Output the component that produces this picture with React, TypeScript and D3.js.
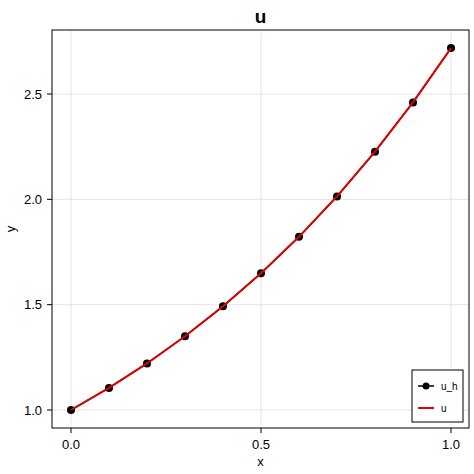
import React from "react";
import * as d3 from "d3";

const xs = [0, 0.1, 0.2, 0.3, 0.4, 0.5, 0.6, 0.7, 0.8, 0.9, 1.0];
const uh = [1.0, 1.105, 1.221, 1.35, 1.492, 1.649, 1.822, 2.014, 2.226, 2.46, 2.718];
const uExact = [1.0, 1.105, 1.221, 1.35, 1.492, 1.649, 1.822, 2.014, 2.226, 2.46, 2.718];
const xTicks = [0, 0.5, 1.0];
const yTicks = [1.0, 1.5, 2.0, 2.5];

export default function App() {
  const W = 474, H = 474;
  const left = 52, right = 469, top = 30, bottom = 428;
  const x = d3.scaleLinear().domain([0, 1]).range([71, 451]);
  const y = d3.scaleLinear().domain([1, 2.5]).range([410, 94]);
  const font = "'Liberation Sans', Arial, sans-serif";
  const line = d3.line<number>().x((_, i) => x(xs[i])).y((d) => y(d));
  return (
    <svg width={W} height={H} style={{ position: "absolute", left: 0, top: 0, background: "#fff" }} fontFamily={font}>
      <rect x={0} y={0} width={W} height={H} fill="#fff" />
      {xTicks.map((t) => (
        <line key={"gx" + t} x1={x(t)} x2={x(t)} y1={top} y2={bottom} stroke="#e5e5e5" strokeWidth={1} />
      ))}
      {yTicks.map((t) => (
        <line key={"gy" + t} x1={left} x2={right} y1={y(t)} y2={y(t)} stroke="#e5e5e5" strokeWidth={1} />
      ))}
      <path d={line(uh) || ""} fill="none" stroke="#000" strokeWidth={1.5} />
      {uh.map((v, i) => (
        <circle key={"p" + i} cx={x(xs[i])} cy={y(v)} r={4} fill="#000" />
      ))}
      <path d={line(uExact) || ""} fill="none" stroke="#e00000" strokeWidth={2} />
      <rect x={left} y={top} width={right - left} height={bottom - top} fill="none" stroke="#000" strokeWidth={1} />
      {xTicks.map((t) => (
        <g key={"xt" + t}>
          <line x1={x(t)} x2={x(t)} y1={bottom} y2={bottom + 5} stroke="#000" />
          <text x={x(t)} y={bottom + 21} textAnchor="middle" fontSize={13} fill="#000">{d3.format(".1f")(t)}</text>
        </g>
      ))}
      {yTicks.map((t) => (
        <g key={"yt" + t}>
          <line x1={left - 5} x2={left} y1={y(t)} y2={y(t)} stroke="#000" />
          <text x={left - 10} y={y(t)} dy="0.35em" textAnchor="end" fontSize={13} fill="#000">{d3.format(".1f")(t)}</text>
        </g>
      ))}
      <text x={(left + right) / 2} y={23} textAnchor="middle" fontSize={19} fontWeight="bold" fill="#000">u</text>
      <text x={(left + right) / 2} y={466} textAnchor="middle" fontSize={13} fill="#000">x</text>
      <text transform={`translate(15,${(top + bottom) / 2}) rotate(-90)`} textAnchor="middle" fontSize={13} fill="#000">y</text>
      <g>
        <rect x={412} y={370} width={51} height={52} fill="#fff" stroke="#000" strokeWidth={1} />
        <line x1={418} x2={434} y1={386} y2={386} stroke="#000" strokeWidth={1.5} />
        <circle cx={426} cy={386} r={3.5} fill="#000" />
        <text x={441} y={386} dy="0.35em" fontSize={10} fill="#000">u_h</text>
        <line x1={418} x2={434} y1={408} y2={408} stroke="#e00000" strokeWidth={2} />
        <text x={441} y={408} dy="0.35em" fontSize={10} fill="#000">u</text>
      </g>
    </svg>
  );
}
